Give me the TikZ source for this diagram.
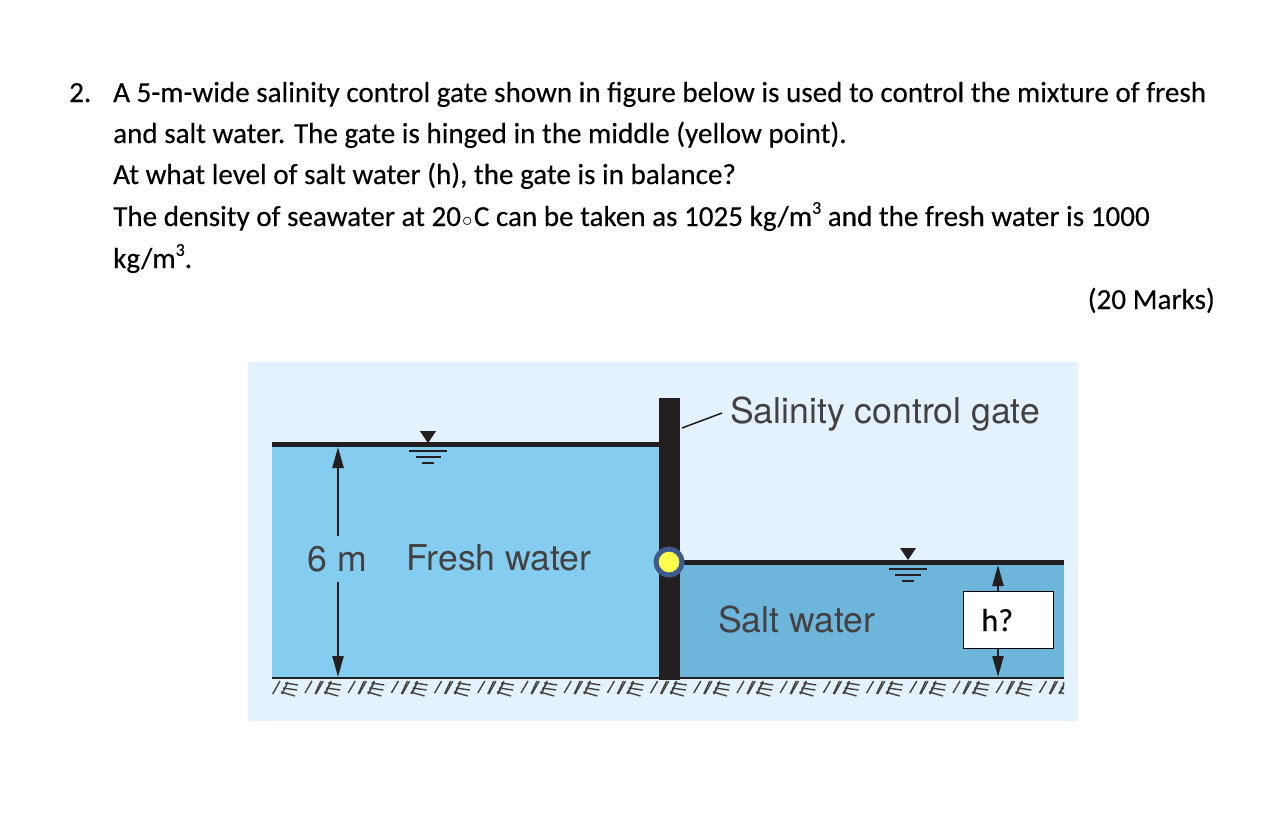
\documentclass[tikz,border=0pt]{standalone}
\usepackage{fontspec}
\setmainfont{Carlito}[FakeBold=0.25]
\newfontfamily\figfont{TeX Gyre Heros}
\usetikzlibrary{arrows.meta}
\definecolor{bgblue}{HTML}{E3F2FC}
\definecolor{freshc}{HTML}{84CDF1}
\definecolor{saltc}{HTML}{6DB5DB}
\definecolor{inkc}{HTML}{231F20}
\definecolor{ringc}{HTML}{3E5A8A}
\definecolor{yelc}{HTML}{FFFF4D}
\newcommand{\cubed}{\raisebox{0.42em}{\fontsize{18}{18}\selectfont 3}}
\tikzset{
  x=1pt,y=-1pt,
  qtext/.style={anchor=base west,inner sep=0pt,font=\fontsize{29.1}{29.1}\selectfont,text=black},
  figtext/.style={anchor=base west,inner sep=0pt,font=\figfont\fontsize{35.6}{35.6}\selectfont,text=inkc!85},
  surface/.style={draw=inkc,line width=5pt},
  dim/.style={draw=inkc,line width=2.4pt,-{Triangle[length=21pt,width=11pt]},shorten >=0pt},
  levelline/.style={draw=inkc,line width=2pt},
  hatchline/.style={draw=inkc!85,line width=1.4pt},
}
\begin{document}
\begin{tikzpicture}
\useasboundingbox (0,0) rectangle (1285,823);
\fill[white] (0,0) rectangle (1285,823);
% question text
\node[qtext] (qnum) at (69,102) {2.};
\node[qtext] (q1) at (113,102) {A 5-m-wide salinity control gate shown in figure below is used to control the mixture of fresh};
\node[qtext] (q2) at (113,143) {and salt water. The gate is hinged in the middle (yellow point).};
\node[qtext] (q3) at (113,184) {At what level of salt water (h), the gate is in balance?};
\node[qtext] (q4) at (113,226) {The density of seawater at 20\kern1pt$\scriptstyle\circ$\kern1.5pt C can be taken as 1025 kg/m\cubed{} and the fresh water is 1000};
\node[qtext] (q5) at (113,268) {kg/m\cubed.};
\node[qtext,anchor=base east] (marks) at (1215,309) {(20 Marks)};
% figure
\fill[bgblue] (248,362) rectangle (1078,721);
\fill[freshc] (272,444) rectangle (660,678);
\fill[saltc] (679,562) rectangle (1064,678);
% ground hatching
\begin{scope}
\clip (272,679) rectangle (1064,698);
\foreach \i in {0,...,18}{
  \begin{scope}[shift={(\i*43.2,0)}]
    \draw[hatchline] (280,681) -- (272.7,694);
    \draw[hatchline] (288,682) -- (282,694);
    \draw[hatchline] (285,683) -- (298,685);
    \draw[hatchline] (283,688) -- (297,690);
    \draw[hatchline] (281,692) -- (295,696);
    \draw[hatchline] (312,681) -- (305,693);
    \draw[hatchline] (321,681) -- (315,694);
    \draw[hatchline] (331,681) -- (325,694);
  \end{scope}
}
\end{scope}
\draw[draw=inkc,line width=2.5pt] (272,678) -- (1064,678);
% surfaces
\draw[surface] (272,444) -- (659,444);
\draw[surface] (680,562.5) -- (1064,562.5);
% levels
\fill[inkc] (420,431) -- (436,431) -- (428,443) -- cycle;
\draw[levelline] (409,450.5) -- (447,450.5);
\draw[levelline] (416,457) -- (441,457);
\draw[levelline] (422,463) -- (434,463);
\fill[inkc] (900,548) -- (916,548) -- (908,560) -- cycle;
\draw[levelline] (889,568.5) -- (927,568.5);
\draw[levelline] (895,574.5) -- (921,574.5);
\draw[levelline] (902,580.5) -- (914,580.5);
% gate
\node[draw=none,fill=inkc,inner sep=0pt,minimum width=21pt,minimum height=282pt,anchor=north west] (gate) at (659,398) {};
\coordinate (leadfoot) at (682,428);
\node[figtext] (gatelabel) at (730,423) {Salinity control gate};
\draw[draw=inkc,line width=1.5pt] (leadfoot) -- (722,413);
\node[circle,fill=yelc,draw=ringc,line width=5pt,minimum size=26pt,inner sep=0pt] (hinge) at (669,562) {};
% labels
\node[figtext] (fresh) at (406,570) {Fresh water};
\node[figtext] (salt) at (718,632) {Salt water};
% 6 m dimension
\node[inner sep=0pt,font=\figfont\fontsize{35.6}{35.6}\selectfont,text=inkc!85,minimum height=46pt] (sixm) at (337,559) {6 m};
\coordinate (sixtop) at (338,447);
\coordinate (sixbot) at (338,677);
\draw[dim] (sixm.north -| sixtop) -- (sixtop);
\draw[dim] (sixm.south -| sixbot) -- (sixbot);
% h dimension
\node[draw=black,fill=white,line width=1pt,minimum width=90pt,minimum height=57pt,inner xsep=18pt,inner ysep=0pt,text width=54pt,align=left,anchor=north west,font=\fontsize{32}{32}\selectfont] (hbox) at (963,591) {h?};
\coordinate (htop) at (998,565);
\coordinate (hbot) at (998,677);
\draw[dim] (hbox.north -| htop) -- (htop);
\draw[dim] (hbox.south -| hbot) -- (hbot);
\end{tikzpicture}
\end{document}
